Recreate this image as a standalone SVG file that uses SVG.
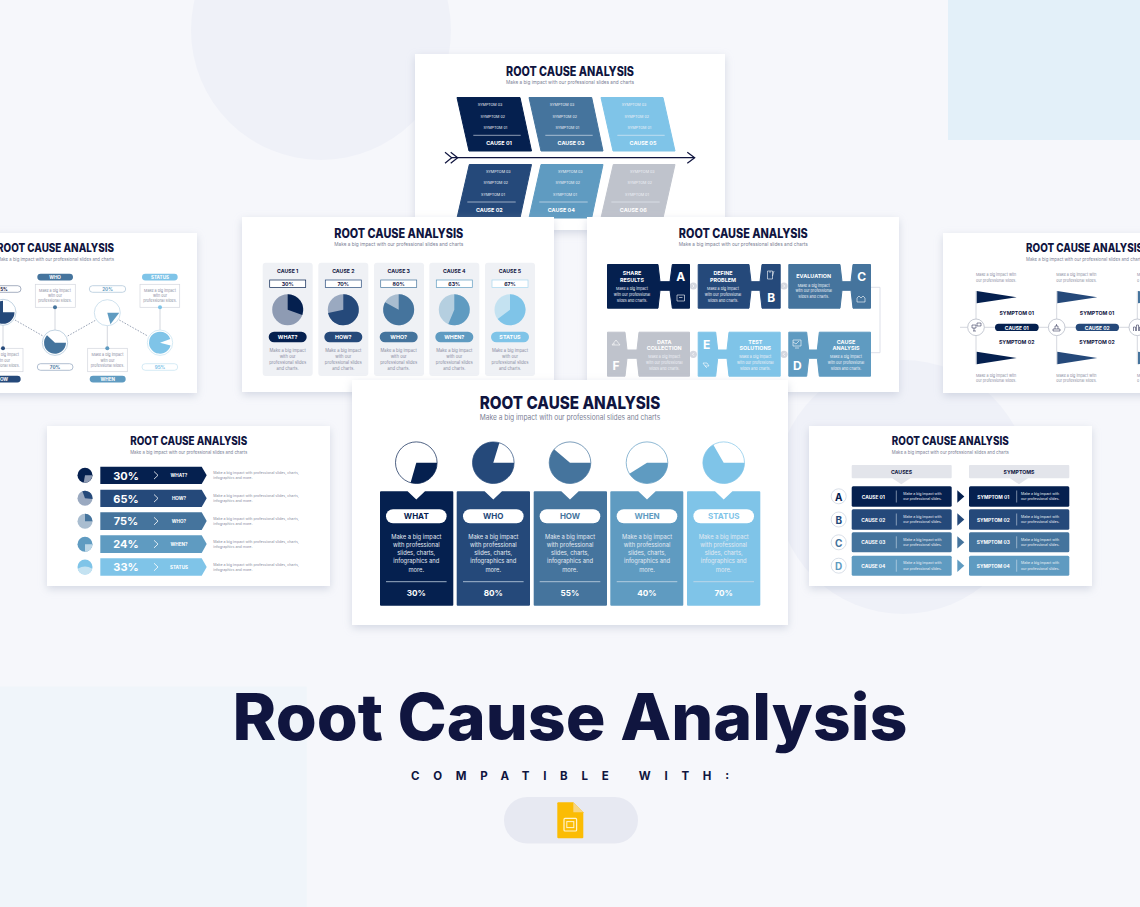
<svg xmlns="http://www.w3.org/2000/svg" width="1140" height="907" viewBox="0 0 1140 907">
<defs>
<filter id="sh" x="-10%" y="-10%" width="120%" height="125%"><feDropShadow dx="0" dy="3" stdDeviation="4" flood-color="#aab2c6" flood-opacity="0.45"/></filter>
</defs>
<style>
text{font-family:"Inter","Liberation Sans",sans-serif;dominant-baseline:central;text-anchor:middle}
.t{font-weight:800;fill:#10153f;dominant-baseline:alphabetic}
.s{fill:#7c7f96;font-size:5.2px}
.b{fill:#8a8da2;font-size:4.2px}
.b2{fill:#8a8da2;font-size:3.7px}
.w{fill:#e9eff6;font-size:4.3px}
.l{fill:#fff;font-weight:700;font-size:5.6px}
.c{fill:#fff;font-weight:700;font-size:5.4px}
.m{fill:#eef0f6;font-size:3.7px}
.m2{fill:#eef0f6;font-size:3.5px;text-anchor:start}
.d{fill:#10153f;font-weight:700;font-size:5.2px}
.L{fill:#fff;font-weight:700;font-size:12px}
.st{fill:none;stroke:#fff;stroke-width:.6}
.slide{fill:#fff;filter:url(#sh)}
.n1{fill:#05204f}.n2{fill:#25497a}.n3{fill:#45749d}.n4{fill:#5f9bc1}.n5{fill:#7fc4e8}.n6{fill:#bfc3cc}
.hl{stroke:#e9eff6;stroke-width:.6}
.g{stroke:#c9cdd6;stroke-width:.8;fill:none}
.start{text-anchor:start}
</style>
<rect width="1140" height="907" fill="#f6f7fb"/>
<g id="background">
<circle cx="321" cy="30" r="130" fill="#eff1f8"/>
<rect x="948" width="192" height="140" fill="#e3f0f9"/>
<circle cx="903" cy="487" r="127" fill="#eff1f8"/>
<rect y="686.5" width="306.7" height="220.5" fill="#f0f5fa"/>
</g>

<g id="slide-fishbone">
<rect class="slide" x="415" y="54" width="310" height="176"/>
<text class="t" x="570" y="75.5" font-size="12.5" textLength="128" lengthAdjust="spacingAndGlyphs">ROOT CAUSE ANALYSIS</text>
<text class="s" x="570" y="81.5" textLength="128" lengthAdjust="spacingAndGlyphs">Make a big impact with our professional slides and charts</text>
<g stroke-linejoin="round">
<path class="n1" d="M457 97.5H520L531.5 151H469Z" stroke="#05204f"/>
<path class="n3" d="M529 97.5H591.7L603 151H541Z" stroke="#45749d"/>
<path class="n5" d="M601 97.5H663L675 151H613Z" stroke="#7fc4e8"/>
<path class="n2" d="M469.3 164.5H531.5L520 218H457Z" stroke="#25497a"/>
<path class="n4" d="M541 164.5H603L591.7 218H529Z" stroke="#5f9bc1"/>
<path class="n6" d="M613.3 164.5H675L663 218H601Z" stroke="#bfc3cc"/>
</g>
<g id="fish-arrow" fill="none" stroke="#10153f" stroke-width="1.2">
<path d="M451 157.7H694"/><path d="M445 152.3L451.7 157.7L445 163.3M450.7 152.3L457.7 157.7L450.7 163.3M687.3 152.3L694.7 157.7L687.3 163.3"/>
</g>
<g class="cols">
<text class="m" x="490" y="104.3">SYMPTOM 03</text><text class="m" x="492.7" y="116">SYMPTOM 02</text><text class="m" x="495.3" y="127.3">SYMPTOM 01</text><path class="hl" d="M473.3 135.3H520.7"/><text class="c" x="499" y="143">CAUSE 01</text>
<text class="m" x="562" y="104.3">SYMPTOM 03</text><text class="m" x="564.7" y="116">SYMPTOM 02</text><text class="m" x="567.3" y="127.3">SYMPTOM 01</text><path class="hl" d="M545.3 135.3H592.7"/><text class="c" x="571" y="143">CAUSE 03</text>
<text class="m" x="634" y="104.3">SYMPTOM 03</text><text class="m" x="636.7" y="116">SYMPTOM 02</text><text class="m" x="639.3" y="127.3">SYMPTOM 01</text><path class="hl" d="M617.3 135.3H664.7"/><text class="c" x="643" y="143">CAUSE 05</text>
<text class="m" x="498.3" y="171.3">SYMPTOM 03</text><text class="m" x="495.7" y="182.7">SYMPTOM 02</text><text class="m" x="493" y="194">SYMPTOM 01</text><path class="hl" d="M467.3 202H515.7"/><text class="c" x="489.3" y="210">CAUSE 02</text>
<text class="m" x="570.3" y="171.3">SYMPTOM 03</text><text class="m" x="567.7" y="182.7">SYMPTOM 02</text><text class="m" x="565" y="194">SYMPTOM 01</text><path class="hl" d="M539.3 202H587.7"/><text class="c" x="561.3" y="210">CAUSE 04</text>
<text class="m" x="642.3" y="171.3">SYMPTOM 03</text><text class="m" x="639.7" y="182.7">SYMPTOM 02</text><text class="m" x="637" y="194">SYMPTOM 01</text><path class="hl" d="M611.3 202H659.7"/><text class="c" x="633.3" y="210">CAUSE 06</text>
</g>
</g>

<g id="slide-timeline">
<rect class="slide" x="-20" y="233" width="217" height="160"/>
<text class="t" x="55.5" y="252" font-size="11.5" textLength="117" lengthAdjust="spacingAndGlyphs">ROOT CAUSE ANALYSIS</text>
<text class="s" x="55.5" y="258.5" style="font-size:4.8px" textLength="117" lengthAdjust="spacingAndGlyphs">Make a big impact with our professional slides and charts</text>
<g fill="none" stroke="#6f7d96" stroke-width=".7" stroke-dasharray="1.6 1.4"><path d="M15 320L43 336M67.7 336L96 320M119.3 320L147.7 336"/></g>
<g class="g"><path d="M55 307V330M107.3 325V348M160 307V330M3 325V348"/></g>
<g fill="#fff" stroke="#d3d6de" stroke-width=".7">
<rect x="35.3" y="284.3" width="40" height="23"/><rect x="140" y="284.3" width="39.7" height="23"/><rect x="87.7" y="348.3" width="39.6" height="23.4"/><rect x="-17" y="348.3" width="40" height="23.4"/>
</g>
<circle cx="55" cy="307.3" r="2" class="n3"/><circle cx="160" cy="307.3" r="2" class="n5"/><circle cx="107.3" cy="348.3" r="2" class="n4"/><circle cx="3" cy="348.3" r="2" class="n2"/>
<rect x="37.3" y="273.7" width="35.7" height="6.8" rx="3.4" class="n3"/><text class="c" x="55" y="277.2" style="font-size:4.6px">WHO</text>
<rect x="142" y="273.7" width="35.7" height="6.8" rx="3.4" class="n5"/><text class="c" x="160" y="277.2" style="font-size:4.6px">STATUS</text>
<rect x="89.7" y="375.7" width="36" height="6.8" rx="3.4" class="n4"/><text class="c" x="107.7" y="379.2" style="font-size:4.6px">WHEN</text>
<rect x="-15" y="375.7" width="35.7" height="6.8" rx="3.4" class="n2"/><text class="c" x="4" y="379.2" style="font-size:4.6px">OW</text>
<g fill="#fff" stroke-width=".7">
<rect x="-15" y="285.7" width="36" height="6.6" rx="3.3" stroke="#05204f" stroke-opacity=".5"/><rect x="89.3" y="285.7" width="36.4" height="6.6" rx="3.3" stroke="#a9c2d6"/><rect x="37.3" y="363.7" width="35.7" height="6.6" rx="3.3" stroke="#8fa4bd"/><rect x="142" y="363.7" width="35.7" height="6.6" rx="3.3" stroke="#c4e2f1"/>
</g>
<text class="d" x="4" y="289" style="font-size:4.6px">5%</text><text class="d" x="107.5" y="289" style="font-size:4.6px;fill:#5f9bc1">20%</text><text class="d" x="55" y="367" style="font-size:4.6px;fill:#45749d">70%</text><text class="d" x="160" y="367" style="font-size:4.6px;fill:#7fc4e8">95%</text>
<g class="tx">
<text class="b2" x="55" y="290">Make a big impact</text><text class="b2" x="55" y="295.4">with our</text><text class="b2" x="55" y="300.7">professional slides.</text>
<text class="b2" x="160" y="290">Make a big impact</text><text class="b2" x="160" y="295.4">with our</text><text class="b2" x="160" y="300.7">professional slides.</text>
<text class="b2" x="107.5" y="354">Make a big impact</text><text class="b2" x="107.5" y="360">with our</text><text class="b2" x="107.5" y="365.7">professional slides.</text>
<text class="b2" x="3" y="354">Make a big impact</text><text class="b2" x="3" y="360">with our</text><text class="b2" x="3" y="365.7">professional slides.</text>
</g>
<g fill="#fff" stroke-width=".7"><circle cx="3" cy="312.3" r="13" stroke="#a9c2d6"/><circle cx="55" cy="342.7" r="12.7" stroke="#a9c2d6"/><circle cx="107.3" cy="312.7" r="13" stroke="#bcd6e6"/><circle cx="160" cy="342.7" r="12.7" stroke="#c4e2f1"/></g>
<path class="n2" d="M3 312.3H14.5A11.5 11.5 0 1 1 3 300.8Z"/>
<path class="n3" d="M55 342.7H66A11 11 0 1 1 47 335.2Z"/>
<path class="n4" d="M107.3 312.7H119.3L110.4 324.3Z"/>
<path class="n5" d="M160 342.7L170.6 345.5A11 11 0 1 1 170.3 338.9Z"/>
</g>

<g id="slide-flags">
<rect class="slide" x="943" y="233" width="217" height="160"/>
<text class="t start" x="1026" y="252" font-size="11.5" textLength="117" lengthAdjust="spacingAndGlyphs" style="text-anchor:start">ROOT CAUSE ANALYSIS</text>
<text class="s" x="1026" y="258.5" style="font-size:4.8px;text-anchor:start" textLength="117" lengthAdjust="spacingAndGlyphs">Make a big impact with our professional slides and charts</text>
<path class="g" d="M960 327.3H1140M976 291V364.3M1056.7 291V364.3M1137.3 291V364.3"/>
<path class="n1" d="M976.7 291L1016.7 297.2L976.7 303.3ZM976.7 351.7L1016.7 358L976.7 364.3Z"/>
<path class="n2" d="M1057.3 291L1097.3 297.2L1057.3 303.3ZM1057.3 351.7L1097.3 358L1057.3 364.3Z"/>
<path class="n3" d="M1138 291L1178 297.2L1138 303.3ZM1138 351.7L1178 358L1138 364.3Z"/>
<g fill="#fff" stroke="#c0c4ce" stroke-width=".9"><circle cx="976" cy="327.3" r="8.3"/><circle cx="1056.7" cy="327.3" r="8.3"/><circle cx="1137.3" cy="327.3" r="8.3"/></g>
<g fill="none" stroke="#10153f" stroke-width=".5"><path d="M972 325h4v3h-4zM977 323h4v3h-4zM974 328v3M973 331h3"/><path d="M1053 331h7v-2h-7zM1055 329v-3h3v3M1056.5 326v-2"/><path d="M1133.5 331v-4h2v4M1136.5 331v-6h2v6M1139.5 331v-4h2v4"/></g>
<rect x="995" y="323.7" width="43.7" height="7.4" rx="3.7" class="n1"/><text class="c" x="1016.8" y="327.5" style="font-size:5px">CAUSE 01</text>
<rect x="1075.7" y="323.7" width="43.3" height="7.4" rx="3.7" class="n2"/><text class="c" x="1097.3" y="327.5" style="font-size:5px">CAUSE 02</text>
<text class="d" x="1016.7" y="313">SYMPTOM 01</text><text class="d" x="1016.7" y="342">SYMPTOM 02</text>
<text class="d" x="1097" y="313">SYMPTOM 01</text><text class="d" x="1097" y="342">SYMPTOM 02</text>
<g>
<text class="b2" x="976" y="274.3" style="text-anchor:start">Make a big impact with</text><text class="b2" x="976" y="280" style="text-anchor:start">our professional slides.</text>
<text class="b2" x="976" y="375" style="text-anchor:start">Make a big impact with</text><text class="b2" x="976" y="380.7" style="text-anchor:start">our professional slides.</text>
<text class="b2" x="1056.3" y="274.3" style="text-anchor:start">Make a big impact with</text><text class="b2" x="1056.3" y="280" style="text-anchor:start">our professional slides.</text>
<text class="b2" x="1056.3" y="375" style="text-anchor:start">Make a big impact with</text><text class="b2" x="1056.3" y="380.7" style="text-anchor:start">our professional slides.</text>
<text class="b2" x="1137" y="274.3" style="text-anchor:start">M</text><text class="b2" x="1137" y="280" style="text-anchor:start">o</text>
<text class="b2" x="1137" y="375" style="text-anchor:start">M</text><text class="b2" x="1137" y="380.7" style="text-anchor:start">o</text>
</g>
</g>

<g id="slide-pies">
<rect class="slide" x="242" y="217" width="312" height="175"/>
<text class="t" x="398.7" y="238" font-size="12.5" textLength="129" lengthAdjust="spacingAndGlyphs">ROOT CAUSE ANALYSIS</text>
<text class="s" x="398.7" y="244" textLength="129" lengthAdjust="spacingAndGlyphs">Make a big impact with our professional slides and charts</text>
<g fill="#eff1f5">
<rect x="262.7" y="262.7" width="50" height="113.3" rx="3"/><rect x="318.3" y="262.7" width="50" height="113.3" rx="3"/><rect x="374" y="262.7" width="50" height="113.3" rx="3"/><rect x="429.3" y="262.7" width="50" height="113.3" rx="3"/><rect x="485" y="262.7" width="50" height="113.3" rx="3"/>
</g>
<text class="d" x="287.7" y="271">CAUSE 1</text><text class="d" x="343.3" y="271">CAUSE 2</text><text class="d" x="398.7" y="271">CAUSE 3</text><text class="d" x="454.3" y="271">CAUSE 4</text><text class="d" x="510" y="271">CAUSE 5</text>
<g fill="#fff" stroke-width=".7"><rect x="269.7" y="280" width="36" height="7.6" stroke="#05204f"/><rect x="325.3" y="280" width="36" height="7.6" stroke="#25497a"/><rect x="380.7" y="280" width="36" height="7.6" stroke="#45749d"/><rect x="436.3" y="280" width="36" height="7.6" stroke="#5f9bc1"/><rect x="492" y="280" width="36" height="7.6" stroke="#a9d8ef"/></g>
<text class="d" x="287.7" y="284">30%</text><text class="d" x="343.3" y="284">70%</text><text class="d" x="398.7" y="284">80%</text><text class="d" x="454.3" y="284">63%</text><text class="d" x="510" y="284">67%</text>
<circle cx="287.7" cy="309.7" r="15.5" fill="#8e9bb3"/><path class="n1" d="M287.7 309.7V294.2A15.5 15.5 0 0 1 302.3 315Z"/>
<circle cx="343.3" cy="309.7" r="15.5" fill="#9aa9c0"/><path class="n2" d="M343.3 309.7V294.2A15.5 15.5 0 1 1 328.1 312.9Z"/>
<circle cx="398.7" cy="309.7" r="15.5" fill="#a9bdd0"/><path class="n3" d="M398.7 309.7V294.2A15.5 15.5 0 1 1 385.1 302.2Z"/>
<circle cx="454.3" cy="309.7" r="15.5" fill="#b5cfe0"/><path class="n4" d="M454.3 309.7V294.2A15.5 15.5 0 1 1 448.3 324Z"/>
<circle cx="510" cy="309.7" r="15.5" fill="#c4e2f1"/><path class="n5" d="M510 309.7V294.2A15.5 15.5 0 1 1 497.7 319.1Z"/>
<rect x="268.7" y="331.7" width="38" height="10.6" rx="5.3" class="n1"/><text class="c" x="287.7" y="337">WHAT?</text>
<rect x="324.3" y="331.7" width="38" height="10.6" rx="5.3" class="n2"/><text class="c" x="343.3" y="337">HOW?</text>
<rect x="379.7" y="331.7" width="38" height="10.6" rx="5.3" class="n3"/><text class="c" x="398.7" y="337">WHO?</text>
<rect x="435.3" y="331.7" width="38" height="10.6" rx="5.3" class="n4"/><text class="c" x="454.3" y="337">WHEN?</text>
<rect x="491" y="331.7" width="38" height="10.6" rx="5.3" class="n5"/><text class="c" x="510" y="337">STATUS</text>
<g>
<text class="b" x="287.7" y="350.7">Make a big impact</text><text class="b" x="287.7" y="356.3">with our</text><text class="b" x="287.7" y="362">professional slides</text><text class="b" x="287.7" y="368">and charts.</text>
<text class="b" x="343.3" y="350.7">Make a big impact</text><text class="b" x="343.3" y="356.3">with our</text><text class="b" x="343.3" y="362">professional slides</text><text class="b" x="343.3" y="368">and charts.</text>
<text class="b" x="398.7" y="350.7">Make a big impact</text><text class="b" x="398.7" y="356.3">with our</text><text class="b" x="398.7" y="362">professional slides</text><text class="b" x="398.7" y="368">and charts.</text>
<text class="b" x="454.3" y="350.7">Make a big impact</text><text class="b" x="454.3" y="356.3">with our</text><text class="b" x="454.3" y="362">professional slides</text><text class="b" x="454.3" y="368">and charts.</text>
<text class="b" x="510" y="350.7">Make a big impact</text><text class="b" x="510" y="356.3">with our</text><text class="b" x="510" y="362">professional slides</text><text class="b" x="510" y="368">and charts.</text>
</g>
</g>

<g id="slide-steps">
<rect class="slide" x="587" y="217" width="312" height="175"/>
<text class="t" x="743.3" y="238" font-size="12.5" textLength="129" lengthAdjust="spacingAndGlyphs">ROOT CAUSE ANALYSIS</text>
<text class="s" x="743.3" y="244" textLength="129" lengthAdjust="spacingAndGlyphs">Make a big impact with our professional slides and charts</text>
<path fill="none" stroke="#d9dde6" stroke-width=".9" d="M871 287.3H880V352.7H871"/>
<circle cx="693.3" cy="286" r="3.6" fill="#d5d8e0"/><circle cx="784" cy="286" r="3.6" fill="#d5d8e0"/><circle cx="693.3" cy="354.3" r="3.6" fill="#d5d8e0"/><circle cx="784" cy="354.3" r="3.6" fill="#d5d8e0"/>
<path class="st" d="M692.5 284.5L694 286L692.5 287.5M783.2 284.5L784.7 286L783.2 287.5M694 352.8L692.5 354.3L694 355.8M784.8 352.8L783.3 354.3L784.8 355.8" style="stroke-width:.7"/>
<g stroke-linejoin="round" stroke-width="1">
<path class="n1" stroke="#05204f" d="M607.5 264.5H658L660 281.7H670L672.3 264.5H689.5V308.2H672.3L670 290.3H660L658 308.2H607.5Z"/>
<path class="n2" stroke="#25497a" d="M698.2 264.5H749L751 281.7H760L762 264.5H780.2V308.2H762L760 290.3H751L749 308.2H698.2Z"/>
<path class="n3" stroke="#45749d" d="M788.8 264.5H840L842 281.7H851L853 264.5H870.5V308.2H853L851 290.3H842L840 308.2H788.8Z"/>
<path class="n6" stroke="#bfc3cc" d="M607.5 332.2H625L627 350H637L639 332.2H689.5V376.2H639L637 358.3H627L625 376.2H607.5Z"/>
<path class="n5" stroke="#7fc4e8" d="M698.2 332.2H715.7L717.7 350H727L729 332.2H780.2V376.2H729L727 358.3H717.7L715.7 376.2H698.2Z"/>
<path class="n4" stroke="#5f9bc1" d="M788.8 332.2H806.7L808.7 350H817.3L819.3 332.2H870.5V376.2H819.3L817.3 358.3H808.7L806.7 376.2H788.8Z"/>
</g>
<text class="L" x="680.7" y="276">A</text><text class="L" x="771.3" y="297.7">B</text><text class="L" x="861.7" y="276">C</text><text class="L" x="797.3" y="365.7">D</text><text class="L" x="706.7" y="344">E</text><text class="L" x="616" y="365.7">F</text>
<path class="st" d="M677 295h7.5v6h-7.5zM679 297.5h3.5M767.5 271h5v8h-5zM769 272h2M774 271l-1.5 5M857 302v-4l2-2 2 2 2-2 2 2v4zM801 340h-8v6h8zM795 348h4M793 342l3 2 3-3M703 363h4l2 3h-4zM707 368l-2-2M612 345l4-5 4 5zM614 345v-2"/>
<text class="c" x="632" y="273.3">SHARE</text><text class="c" x="632" y="280">RESULTS</text>
<text class="m" x="632" y="288.3">Make a big impact</text><text class="m" x="632" y="294.3">with our professional</text><text class="m" x="632" y="300">slides and charts.</text>
<text class="c" x="723" y="273.3">DEFINE</text><text class="c" x="723" y="280">PROBLEM</text>
<text class="m" x="723" y="288.3">Make a big impact</text><text class="m" x="723" y="294.3">with our professional</text><text class="m" x="723" y="300">slides and charts.</text>
<text class="c" x="813.7" y="276">EVALUATION</text>
<text class="m" x="813.7" y="285">Make a big impact</text><text class="m" x="813.7" y="290.7">with our professional</text><text class="m" x="813.7" y="296.3">slides and charts.</text>
<text class="c" x="664.3" y="341.7">DATA</text><text class="c" x="664.3" y="348">COLLECTION</text>
<text class="m" x="664.3" y="356.7">Make a big impact</text><text class="m" x="664.3" y="362.3">with our professional</text><text class="m" x="664.3" y="368">slides and charts.</text>
<text class="c" x="755.3" y="341.7">TEST</text><text class="c" x="755.3" y="348">SOLUTIONS</text>
<text class="m" x="755.3" y="356.7">Make a big impact</text><text class="m" x="755.3" y="362.3">with our professional</text><text class="m" x="755.3" y="368">slides and charts.</text>
<text class="c" x="846" y="341.7">CAUSE</text><text class="c" x="846" y="348">ANALYSIS</text>
<text class="m" x="846" y="356.7">Make a big impact</text><text class="m" x="846" y="362.3">with our professional</text><text class="m" x="846" y="368">slides and charts.</text>
</g>

<g id="slide-bars">
<rect class="slide" x="47" y="426" width="283" height="160"/>
<text class="t" x="188.7" y="445" font-size="11.5" textLength="117" lengthAdjust="spacingAndGlyphs">ROOT CAUSE ANALYSIS</text>
<text class="s" x="188.7" y="451.5" style="font-size:4.8px" textLength="117" lengthAdjust="spacingAndGlyphs">Make a big impact with our professional slides and charts</text>
<circle cx="85" cy="475.3" r="7.5" class="n1"/><path d="M85 475.3H92.3A7.5 7.5 0 0 1 83.7 482.7Z" fill="#8e9bb3"/>
<circle cx="85" cy="498.3" r="7.5" fill="#9aa9c0"/><path class="n2" d="M85 498.3L82.4 491.3A7.5 7.5 0 0 1 92.5 499Z"/>
<circle cx="85" cy="521.3" r="7.5" fill="#a9bdd0"/><path class="n3" d="M85 521.3V513.8A7.5 7.5 0 0 1 92.5 521.3Z"/>
<circle cx="85" cy="544.3" r="7.5" class="n4"/><path d="M85 544.3H92.5A7.5 7.5 0 0 1 85 551.8Z" fill="#bcd6e6"/>
<circle cx="85" cy="567" r="7.5" class="n5"/><path d="M77.7 568.7A7.5 7.5 0 0 0 92.3 568.7Q85 564.5 77.7 568.7Z" fill="#c4e2f1"/>
<path class="n1" d="M100.3 466.7H201.7L206.7 475.3L201.7 484H100.3Z"/>
<path class="n2" d="M100.3 489.7H201.7L206.7 498.3L201.7 507H100.3Z"/>
<path class="n3" d="M100.3 512.3H201.7L206.7 521.1L201.7 530H100.3Z"/>
<path class="n4" d="M100.3 535.3H201.7L206.7 544.1L201.7 553H100.3Z"/>
<path class="n5" d="M100.3 558.3H201.7L206.7 567L201.7 575.7H100.3Z"/>
<path fill="none" stroke="#fff" stroke-width=".8" d="M154 471.5L158 475.3L154 479.1M154 494.5L158 498.3L154 502.1M154 517.3L158 521.1L154 524.9M154 540.3L158 544.1L154 547.9M154 563.2L158 567L154 570.8"/>
<g style="font-weight:700;font-size:11px">
<text x="126" y="475.5" fill="#fff">30%</text><text x="126" y="498.5" fill="#fff">65%</text><text x="126" y="521.3" fill="#fff">75%</text><text x="126" y="544.3" fill="#fff">24%</text><text x="126" y="567.2" fill="#fff">33%</text>
</g>
<text class="c" x="179" y="475.3" style="font-size:4.6px">WHAT?</text><text class="c" x="179" y="498.3" style="font-size:4.6px">HOW?</text><text class="c" x="179" y="521.1" style="font-size:4.6px">WHO?</text><text class="c" x="179" y="544.1" style="font-size:4.6px">WHEN?</text><text class="c" x="179" y="567" style="font-size:4.6px">STATUS</text>
<g>
<text class="b2" x="213.3" y="473" style="text-anchor:start;font-size:3.6px">Make a big impact with professional slides, charts,</text><text class="b2" x="213.3" y="478.3" style="text-anchor:start;font-size:3.6px">infographics and more.</text>
<text class="b2" x="213.3" y="496" style="text-anchor:start;font-size:3.6px">Make a big impact with professional slides, charts,</text><text class="b2" x="213.3" y="501.3" style="text-anchor:start;font-size:3.6px">infographics and more.</text>
<text class="b2" x="213.3" y="519" style="text-anchor:start;font-size:3.6px">Make a big impact with professional slides, charts,</text><text class="b2" x="213.3" y="524.3" style="text-anchor:start;font-size:3.6px">infographics and more.</text>
<text class="b2" x="213.3" y="542" style="text-anchor:start;font-size:3.6px">Make a big impact with professional slides, charts,</text><text class="b2" x="213.3" y="547.3" style="text-anchor:start;font-size:3.6px">infographics and more.</text>
<text class="b2" x="213.3" y="565" style="text-anchor:start;font-size:3.6px">Make a big impact with professional slides, charts,</text><text class="b2" x="213.3" y="570.3" style="text-anchor:start;font-size:3.6px">infographics and more.</text>
</g>
</g>

<g id="slide-table">
<rect class="slide" x="809" y="426" width="283" height="160"/>
<text class="t" x="950.3" y="445" font-size="11.5" textLength="117" lengthAdjust="spacingAndGlyphs">ROOT CAUSE ANALYSIS</text>
<text class="s" x="950.3" y="451.5" style="font-size:4.8px" textLength="117" lengthAdjust="spacingAndGlyphs">Make a big impact with our professional slides and charts</text>
<path fill="#e3e5eb" d="M852.7 465H950.7Q951.7 465 951.7 466V477.3Q951.7 478.3 950.7 478.3H910.3L901.3 484.3L892.3 478.3H852.7Q851.7 478.3 851.7 477.3V466Q851.7 465 852.7 465Z"/>
<path fill="#e3e5eb" d="M970 465H1068.3Q1069.3 465 1069.3 466V477.3Q1069.3 478.3 1068.3 478.3H1028L1019 484.3L1010 478.3H970Q969 478.3 969 477.3V466Q969 465 970 465Z"/>
<text class="d" x="901.5" y="471.6">CAUSES</text><text class="d" x="1019" y="471.6">SYMPTOMS</text>
<g>
<rect x="851.7" y="486.3" width="100" height="20.4" rx="1.5" class="n1"/><rect x="969" y="486.3" width="100.3" height="20.4" rx="1.5" class="n1"/>
<rect x="851.7" y="509.3" width="100" height="20.4" rx="1.5" class="n2"/><rect x="969" y="509.3" width="100.3" height="20.4" rx="1.5" class="n2"/>
<rect x="851.7" y="532.3" width="100" height="20" rx="1.5" class="n3"/><rect x="969" y="532.3" width="100.3" height="20" rx="1.5" class="n3"/>
<rect x="851.7" y="555.7" width="100" height="20" rx="1.5" class="n4"/><rect x="969" y="555.7" width="100.3" height="20" rx="1.5" class="n4"/>
</g>
<path class="n1" d="M957.3 490.3L964.3 496.5L957.3 502.7Z"/><path class="n2" d="M957.3 513.3L964.3 519.5L957.3 525.7Z"/><path class="n3" d="M957.3 536.2L964.3 542.3L957.3 548.4Z"/><path class="n4" d="M957.3 559.5L964.3 565.7L957.3 571.9Z"/>
<g fill="#fff" stroke="#bfc9d8" stroke-width=".6"><circle cx="838.7" cy="496.3" r="7.5"/><circle cx="838.7" cy="519.5" r="7.5"/><circle cx="838.7" cy="542.3" r="7.5"/><circle cx="838.7" cy="565.7" r="7.5"/></g>
<g style="font-weight:700;font-size:10px"><text x="838.7" y="496.5" fill="#05204f">A</text><text x="838.7" y="519.7" fill="#25497a">B</text><text x="838.7" y="542.5" fill="#45749d">C</text><text x="838.7" y="565.9" fill="#5f9bc1">D</text></g>
<path fill="none" stroke="#e9eff6" stroke-width=".5" d="M896.3 490.5V502.5M896.3 513.5V525.5M896.3 536.3V548.3M896.3 559.7V571.7M1016.7 490.5V502.5M1016.7 513.5V525.5M1016.7 536.3V548.3M1016.7 559.7V571.7"/>
<text class="c" x="873.3" y="496.5" style="font-size:4.8px">CAUSE 01</text><text class="c" x="873.3" y="519.5" style="font-size:4.8px">CAUSE 02</text><text class="c" x="873.3" y="542.3" style="font-size:4.8px">CAUSE 03</text><text class="c" x="873.3" y="565.7" style="font-size:4.8px">CAUSE 04</text>
<text class="c" x="993.3" y="496.5" style="font-size:4.8px">SYMPTOM 01</text><text class="c" x="993.3" y="519.5" style="font-size:4.8px">SYMPTOM 02</text><text class="c" x="993.3" y="542.3" style="font-size:4.8px">SYMPTOM 03</text><text class="c" x="993.3" y="565.7" style="font-size:4.8px">SYMPTOM 04</text>
<g>
<text class="m2" x="903.3" y="493.8">Make a big impact with</text><text class="m2" x="903.3" y="499.3">our professional slides.</text>
<text class="m2" x="903.3" y="516.8">Make a big impact with</text><text class="m2" x="903.3" y="522.3">our professional slides.</text>
<text class="m2" x="903.3" y="539.6">Make a big impact with</text><text class="m2" x="903.3" y="545.1">our professional slides.</text>
<text class="m2" x="903.3" y="563">Make a big impact with</text><text class="m2" x="903.3" y="568.5">our professional slides.</text>
<text class="m2" x="1021" y="493.8">Make a big impact with</text><text class="m2" x="1021" y="499.3">our professional slides.</text>
<text class="m2" x="1021" y="516.8">Make a big impact with</text><text class="m2" x="1021" y="522.3">our professional slides.</text>
<text class="m2" x="1021" y="539.6">Make a big impact with</text><text class="m2" x="1021" y="545.1">our professional slides.</text>
<text class="m2" x="1021" y="563">Make a big impact with</text><text class="m2" x="1021" y="568.5">our professional slides.</text>
</g>
</g>

<g id="slide-main">
<rect class="slide" x="352" y="380" width="436" height="245"/>
<text class="t" x="570" y="409.3" font-size="17.5" textLength="180.5" lengthAdjust="spacingAndGlyphs">ROOT CAUSE ANALYSIS</text>
<text class="s" x="570" y="417.8" style="font-size:7.4px" textLength="180.5" lengthAdjust="spacingAndGlyphs">Make a big impact with our professional slides and charts</text>
<g fill="#fff" stroke-width=".7"><circle cx="416.3" cy="462.7" r="20.8" stroke="#05204f"/><circle cx="493.3" cy="462.7" r="20.8" stroke="#25497a"/><circle cx="570" cy="462.7" r="20.8" stroke="#45749d"/><circle cx="647" cy="462.7" r="20.8" stroke="#5f9bc1"/><circle cx="723.7" cy="462.7" r="20.8" stroke="#7fc4e8"/></g>
<path class="n1" d="M416.3 462.7H437.1A20.8 20.8 0 0 1 410.6 482.7Z"/>
<path class="n2" d="M493.3 462.7H514.1A20.8 20.8 0 1 1 499.4 442.8Z"/>
<path class="n3" d="M570 462.7H590.8A20.8 20.8 0 1 1 554.1 449.3Z"/>
<path class="n4" d="M647 462.7H667.8A20.8 20.8 0 0 1 629.4 473.7Z"/>
<path class="n5" d="M723.7 462.7H744.5A20.8 20.8 0 1 1 713.3 444.7Z"/>
<path class="n1" d="M381 491.3H407.6L416.3 499.6L425 491.3H452.3Q453.3 491.3 453.3 492.3V604.7Q453.3 605.7 452.3 605.7H381Q380 605.7 380 604.7V492.3Q380 491.3 381 491.3Z"/>
<path class="n2" d="M457.7 491.3H484.6L493.3 499.6L502 491.3H529Q530 491.3 530 492.3V604.7Q530 605.7 529 605.7H457.7Q456.7 605.7 456.7 604.7V492.3Q456.7 491.3 457.7 491.3Z"/>
<path class="n3" d="M534.7 491.3H561.3L570 499.6L578.7 491.3H606Q607 491.3 607 492.3V604.7Q607 605.7 606 605.7H534.7Q533.7 605.7 533.7 604.7V492.3Q533.7 491.3 534.7 491.3Z"/>
<path class="n4" d="M611.3 491.3H638.3L647 499.6L655.7 491.3H682.3Q683.3 491.3 683.3 492.3V604.7Q683.3 605.7 682.3 605.7H611.3Q610.3 605.7 610.3 604.7V492.3Q610.3 491.3 611.3 491.3Z"/>
<path class="n5" d="M688 491.3H715L723.7 499.6L732.4 491.3H759.3Q760.3 491.3 760.3 492.3V604.7Q760.3 605.7 759.3 605.7H688Q687 605.7 687 604.7V492.3Q687 491.3 688 491.3Z"/>
<g fill="#fff"><rect x="386" y="509.3" width="60.6" height="14" rx="7"/><rect x="463" y="509.3" width="60.6" height="14" rx="7"/><rect x="539.7" y="509.3" width="60.6" height="14" rx="7"/><rect x="616.7" y="509.3" width="60.6" height="14" rx="7"/><rect x="693.4" y="509.3" width="60.6" height="14" rx="7"/></g>
<g style="font-weight:700;font-size:8px"><text x="416.3" y="516.3" fill="#05204f">WHAT</text><text x="493.3" y="516.3" fill="#25497a">WHO</text><text x="570" y="516.3" fill="#45749d">HOW</text><text x="647" y="516.3" fill="#5f9bc1">WHEN</text><text x="723.7" y="516.3" fill="#7fc4e8">STATUS</text></g>
<g style="font-size:5.8px">
<text x="416.3" y="536" fill="#e2e9f2">Make a big impact</text><text x="416.3" y="544.3" fill="#e2e9f2">with professional</text><text x="416.3" y="552.7" fill="#e2e9f2">slides, charts,</text><text x="416.3" y="560.7" fill="#e2e9f2">infographics and</text><text x="416.3" y="569" fill="#e2e9f2">more.</text>
<text x="493.3" y="536" fill="#e2e9f2">Make a big impact</text><text x="493.3" y="544.3" fill="#e2e9f2">with professional</text><text x="493.3" y="552.7" fill="#e2e9f2">slides, charts,</text><text x="493.3" y="560.7" fill="#e2e9f2">infographics and</text><text x="493.3" y="569" fill="#e2e9f2">more.</text>
<text x="570" y="536" fill="#e2e9f2">Make a big impact</text><text x="570" y="544.3" fill="#e2e9f2">with professional</text><text x="570" y="552.7" fill="#e2e9f2">slides, charts,</text><text x="570" y="560.7" fill="#e2e9f2">infographics and</text><text x="570" y="569" fill="#e2e9f2">more.</text>
<text x="647" y="536" fill="#e2e9f2">Make a big impact</text><text x="647" y="544.3" fill="#e2e9f2">with professional</text><text x="647" y="552.7" fill="#e2e9f2">slides, charts,</text><text x="647" y="560.7" fill="#e2e9f2">infographics and</text><text x="647" y="569" fill="#e2e9f2">more.</text>
<text x="723.7" y="536" fill="#e2e9f2">Make a big impact</text><text x="723.7" y="544.3" fill="#e2e9f2">with professional</text><text x="723.7" y="552.7" fill="#e2e9f2">slides, charts,</text><text x="723.7" y="560.7" fill="#e2e9f2">infographics and</text><text x="723.7" y="569" fill="#e2e9f2">more.</text>
</g>
<path fill="none" stroke="#cfdcea" stroke-opacity=".75" stroke-width="1" d="M386 581.7H446.6M463 581.7H523.6M539.7 581.7H600.3M616.7 581.7H677.3M693.4 581.7H754"/>
<g style="font-weight:700;font-size:8.2px"><text x="416.3" y="593.3" fill="#fff">30%</text><text x="493.3" y="593.3" fill="#fff">80%</text><text x="570" y="593.3" fill="#fff">55%</text><text x="647" y="593.3" fill="#fff">40%</text><text x="723.7" y="593.3" fill="#fff">70%</text></g>
</g>

<g id="footer">
<text class="t" x="570" y="740" font-size="64" textLength="675" lengthAdjust="spacingAndGlyphs">Root Cause Analysis</text>
<text x="570" y="776" fill="#10153f" font-weight="700" font-size="11.5" textLength="318">COMPATIBLE WITH:</text>
<rect x="504" y="797" width="134" height="46.5" rx="23.2" fill="#e7e9f2"/>
<g id="slides-icon">
<path fill="#fbbc04" d="M558.3 802.3H573.3L583.3 812.3V837.3Q583.3 838.3 582.3 838.3H558.3Q557.3 838.3 557.3 837.3V803.3Q557.3 802.3 558.3 802.3Z"/>
<path fill="#f7d683" d="M573.3 802.3L583.3 812.3H573.3Z"/>
<rect x="564" y="818.4" width="12.6" height="12.6" rx="1" fill="none" stroke="#fff3cf" stroke-width="1.2"/>
<rect x="566.8" y="821.6" width="7" height="6" fill="none" stroke="#fff3cf" stroke-width="1"/>
</g>
</g>
</svg>
